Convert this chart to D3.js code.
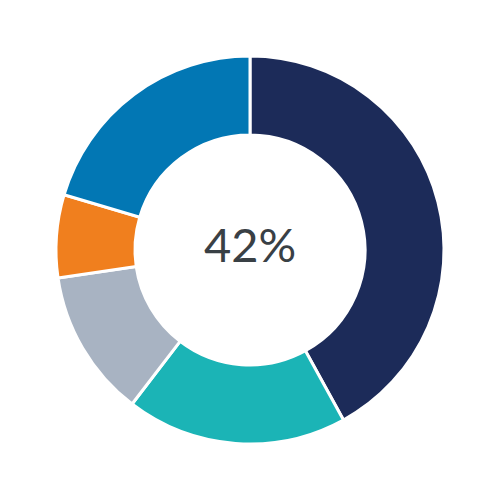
<!DOCTYPE html>
<html>
<head>
<meta charset="utf-8">
<script src="https://cdn.jsdelivr.net/npm/d3@7"></script>
<style>
  body { margin: 0; background: #fff; }
</style>
</head>
<body>
<svg id="viz" width="500" height="500"></svg>
<script>
// slice order, clockwise from 12 o'clock
const categories = ["A", "B", "C", "D", "E"];
const values = [42, 18.4, 12.3, 6.9, 20.4];
const colors = ["#1c2b59", "#1bb4b6", "#a8b3c2", "#f07f1e", "#0277b4"];
const centerLabel = "42%";

const svg = d3.select("#viz");
const W = +svg.attr("width"), H = +svg.attr("height");
const g = svg.append("g").attr("transform", `translate(${W/2},${H/2})`);

const color = d3.scaleOrdinal().domain(categories).range(colors);

const pie = d3.pie().sort(null).value(d => d.value);
const arc = d3.arc().innerRadius(115).outerRadius(194);

const data = categories.map((c, i) => ({ cat: c, value: values[i] }));

g.selectAll("path")
  .data(pie(data))
  .join("path")
  .attr("d", arc)
  .attr("fill", d => color(d.data.cat))
  .attr("stroke", "#fff")
  .attr("stroke-width", 3);

g.append("text")
  .attr("text-anchor", "middle")
  .attr("y", -4)
  .attr("dy", "0.35em")
  .attr("font-family", "Lato, 'Open Sans', sans-serif")
  .attr("font-size", 47)
  .attr("fill", "#394045")
  .text(centerLabel);
</script>
</body>
</html>
